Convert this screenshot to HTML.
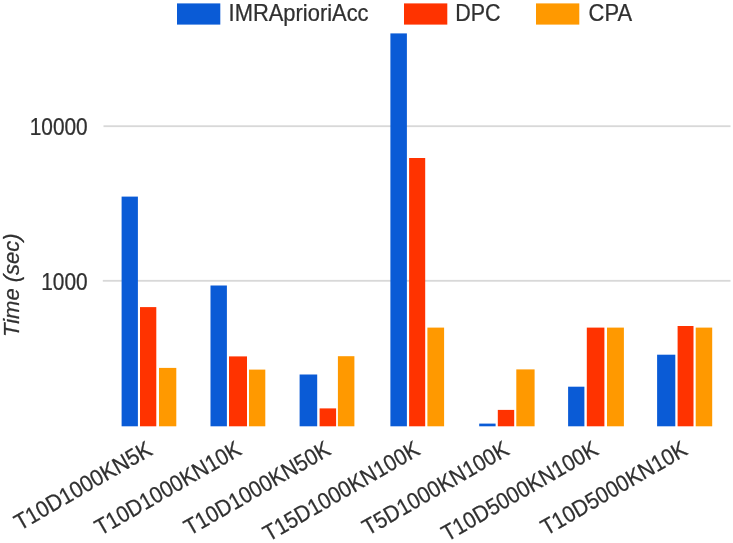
<!DOCTYPE html><html><head><meta charset="utf-8"><title>chart</title><style>html,body{margin:0;padding:0;background:#fff}svg{display:block}text{font-family:"Liberation Sans",Arial,sans-serif;fill:#303030;stroke:#303030;stroke-width:0.25}</style></head><body>
<svg width="733" height="543" viewBox="0 0 733 543">
<rect width="733" height="543" fill="#fff"/>
<rect x="103.5" y="125.3" width="627.0" height="1.8" fill="#d8d8d8"/>
<rect x="102.8" y="279.90000000000003" width="627.7" height="1.8" fill="#d8d8d8"/>
<rect x="121.6" y="196.6" width="16.3" height="229.7" fill="#0a5bd6"/>
<rect x="140.0" y="307.1" width="16.3" height="119.2" fill="#ff3300"/>
<rect x="159.0" y="367.9" width="17.3" height="58.4" fill="#ff9900"/>
<rect x="210.5" y="285.5" width="16.4" height="140.8" fill="#0a5bd6"/>
<rect x="229.0" y="356.4" width="18.0" height="69.9" fill="#ff3300"/>
<rect x="249.0" y="369.6" width="16.3" height="56.7" fill="#ff9900"/>
<rect x="299.6" y="374.5" width="17.6" height="51.8" fill="#0a5bd6"/>
<rect x="319.6" y="408.4" width="16.5" height="17.9" fill="#ff3300"/>
<rect x="337.9" y="356.2" width="16.5" height="70.1" fill="#ff9900"/>
<rect x="390.4" y="33.4" width="16.5" height="392.9" fill="#0a5bd6"/>
<rect x="409.1" y="158.0" width="16.1" height="268.3" fill="#ff3300"/>
<rect x="427.4" y="327.6" width="16.7" height="98.7" fill="#ff9900"/>
<rect x="479.2" y="423.6" width="16.4" height="2.7" fill="#0a5bd6"/>
<rect x="497.8" y="409.9" width="16.4" height="16.4" fill="#ff3300"/>
<rect x="516.3" y="369.4" width="18.3" height="56.9" fill="#ff9900"/>
<rect x="568.1" y="386.7" width="16.3" height="39.6" fill="#0a5bd6"/>
<rect x="586.8" y="327.6" width="17.6" height="98.7" fill="#ff3300"/>
<rect x="607.0" y="327.6" width="16.9" height="98.7" fill="#ff9900"/>
<rect x="657.1" y="354.7" width="18.2" height="71.6" fill="#0a5bd6"/>
<rect x="677.6" y="326.0" width="15.9" height="100.3" fill="#ff3300"/>
<rect x="695.7" y="327.6" width="16.5" height="98.7" fill="#ff9900"/>
<rect x="177" y="3.4" width="43.3" height="21.2" fill="#0a5bd6"/>
<rect x="404" y="3.4" width="43.3" height="21.2" fill="#ff3300"/>
<rect x="536" y="3.4" width="43.3" height="21.2" fill="#ff9900"/>
<text transform="translate(228.6,21.2) rotate(0) scale(0.953,1)" font-size="23" text-anchor="start">IMRAprioriAcc</text>
<text transform="translate(455.3,21.2) rotate(0) scale(0.932,1)" font-size="23" text-anchor="start">DPC</text>
<text transform="translate(588.6,21.2) rotate(0) scale(0.953,1)" font-size="23" text-anchor="start">CPA</text>
<text transform="translate(87.7,135.3) rotate(0) scale(0.908,1)" font-size="23" text-anchor="end">10000</text>
<text transform="translate(87.7,289.6) rotate(0) scale(0.908,1)" font-size="23" text-anchor="end">1000</text>
<text transform="translate(19.1,285.2) rotate(-90) scale(0.978,1)" font-size="22.5" text-anchor="middle" font-style="italic">Time (sec)</text>
<text transform="translate(153.8,453.8) rotate(-30) scale(0.924,1)" font-size="23" text-anchor="end">T10D1000KN5K</text>
<text transform="translate(243.0,453.8) rotate(-30) scale(0.913,1)" font-size="23" text-anchor="end">T10D1000KN10K</text>
<text transform="translate(332.2,453.8) rotate(-30) scale(0.913,1)" font-size="23" text-anchor="end">T10D1000KN50K</text>
<text transform="translate(421.4,453.8) rotate(-30) scale(0.913,1)" font-size="23" text-anchor="end">T15D1000KN100K</text>
<text transform="translate(510.6,453.8) rotate(-30) scale(0.913,1)" font-size="23" text-anchor="end">T5D1000KN100K</text>
<text transform="translate(599.8,453.8) rotate(-30) scale(0.913,1)" font-size="23" text-anchor="end">T10D5000KN100K</text>
<text transform="translate(689.0,453.8) rotate(-30) scale(0.913,1)" font-size="23" text-anchor="end">T10D5000KN10K</text>
</svg></body></html>
